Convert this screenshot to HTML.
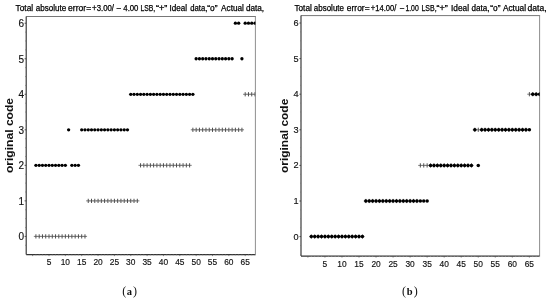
<!DOCTYPE html>
<html><head><meta charset="utf-8"><style>
html,body{margin:0;padding:0;background:#fff;width:550px;height:302px;overflow:hidden}
svg{display:block}
.tk{font-family:"Liberation Sans",Arial,sans-serif;fill:#111;stroke:#111;stroke-width:0.15px}
.tkx{font-family:"Liberation Sans",Arial,sans-serif;font-size:8.4px;fill:#111;stroke:#111;stroke-width:0.15px}
.ylab{font-family:"Liberation Sans",Arial,sans-serif;font-size:11px;font-weight:bold;fill:#111}
.ttl{font-family:"Liberation Sans",Arial,sans-serif;font-size:8.2px;fill:#000;stroke:#000;stroke-width:0.25px}
.cap{font-family:"Liberation Serif","Times New Roman",serif;font-size:12px;fill:#111}
</style></head><body>
<svg width="550" height="302" viewBox="0 0 550 302">
<defs><filter id="bl" x="-5%" y="-50%" width="110%" height="200%"><feGaussianBlur stdDeviation="0.35"/></filter></defs>
<rect width="550" height="302" fill="#fff"/>
<clipPath id="ca"><rect x="26.2" y="16.5" width="229.20000000000002" height="238.1"/></clipPath>
<line x1="26.2" y1="16.5" x2="255.9" y2="16.5" stroke="#777" stroke-width="1"/>
<line x1="255.4" y1="16.5" x2="255.4" y2="254.6" stroke="#8e8e8e" stroke-width="1"/>
<line x1="26.2" y1="16.5" x2="26.2" y2="254.6" stroke="#333" stroke-width="1.15"/>
<line x1="26.2" y1="254.6" x2="255.4" y2="254.6" stroke="#333" stroke-width="1.15"/>
<line x1="25.20" y1="245.28" x2="26.2" y2="245.28" stroke="#777" stroke-width="0.8"/>
<line x1="24.60" y1="236.40" x2="26.2" y2="236.40" stroke="#333" stroke-width="0.8"/>
<line x1="25.20" y1="227.52" x2="26.2" y2="227.52" stroke="#777" stroke-width="0.8"/>
<line x1="25.20" y1="218.63" x2="26.2" y2="218.63" stroke="#777" stroke-width="0.8"/>
<line x1="25.20" y1="209.75" x2="26.2" y2="209.75" stroke="#777" stroke-width="0.8"/>
<line x1="24.60" y1="200.87" x2="26.2" y2="200.87" stroke="#333" stroke-width="0.8"/>
<line x1="25.20" y1="191.99" x2="26.2" y2="191.99" stroke="#777" stroke-width="0.8"/>
<line x1="25.20" y1="183.11" x2="26.2" y2="183.11" stroke="#777" stroke-width="0.8"/>
<line x1="25.20" y1="174.22" x2="26.2" y2="174.22" stroke="#777" stroke-width="0.8"/>
<line x1="24.60" y1="165.34" x2="26.2" y2="165.34" stroke="#333" stroke-width="0.8"/>
<line x1="25.20" y1="156.46" x2="26.2" y2="156.46" stroke="#777" stroke-width="0.8"/>
<line x1="25.20" y1="147.57" x2="26.2" y2="147.57" stroke="#777" stroke-width="0.8"/>
<line x1="25.20" y1="138.69" x2="26.2" y2="138.69" stroke="#777" stroke-width="0.8"/>
<line x1="24.60" y1="129.81" x2="26.2" y2="129.81" stroke="#333" stroke-width="0.8"/>
<line x1="25.20" y1="120.93" x2="26.2" y2="120.93" stroke="#777" stroke-width="0.8"/>
<line x1="25.20" y1="112.05" x2="26.2" y2="112.05" stroke="#777" stroke-width="0.8"/>
<line x1="25.20" y1="103.16" x2="26.2" y2="103.16" stroke="#777" stroke-width="0.8"/>
<line x1="24.60" y1="94.28" x2="26.2" y2="94.28" stroke="#333" stroke-width="0.8"/>
<line x1="25.20" y1="85.40" x2="26.2" y2="85.40" stroke="#777" stroke-width="0.8"/>
<line x1="25.20" y1="76.52" x2="26.2" y2="76.52" stroke="#777" stroke-width="0.8"/>
<line x1="25.20" y1="67.63" x2="26.2" y2="67.63" stroke="#777" stroke-width="0.8"/>
<line x1="24.60" y1="58.75" x2="26.2" y2="58.75" stroke="#333" stroke-width="0.8"/>
<line x1="25.20" y1="49.87" x2="26.2" y2="49.87" stroke="#777" stroke-width="0.8"/>
<line x1="25.20" y1="40.98" x2="26.2" y2="40.98" stroke="#777" stroke-width="0.8"/>
<line x1="25.20" y1="32.10" x2="26.2" y2="32.10" stroke="#777" stroke-width="0.8"/>
<line x1="24.60" y1="23.22" x2="26.2" y2="23.22" stroke="#333" stroke-width="0.8"/>
<line x1="32.65" y1="254.6" x2="32.65" y2="256.1" stroke="#555" stroke-width="0.7"/>
<line x1="35.92" y1="254.6" x2="35.92" y2="255.6" stroke="#999" stroke-width="0.7"/>
<line x1="39.19" y1="254.6" x2="39.19" y2="255.6" stroke="#999" stroke-width="0.7"/>
<line x1="42.46" y1="254.6" x2="42.46" y2="255.6" stroke="#999" stroke-width="0.7"/>
<line x1="45.73" y1="254.6" x2="45.73" y2="255.6" stroke="#999" stroke-width="0.7"/>
<line x1="49.00" y1="254.6" x2="49.00" y2="256.1" stroke="#555" stroke-width="0.7"/>
<line x1="52.27" y1="254.6" x2="52.27" y2="255.6" stroke="#999" stroke-width="0.7"/>
<line x1="55.54" y1="254.6" x2="55.54" y2="255.6" stroke="#999" stroke-width="0.7"/>
<line x1="58.81" y1="254.6" x2="58.81" y2="255.6" stroke="#999" stroke-width="0.7"/>
<line x1="62.08" y1="254.6" x2="62.08" y2="255.6" stroke="#999" stroke-width="0.7"/>
<line x1="65.35" y1="254.6" x2="65.35" y2="256.1" stroke="#555" stroke-width="0.7"/>
<line x1="68.62" y1="254.6" x2="68.62" y2="255.6" stroke="#999" stroke-width="0.7"/>
<line x1="71.89" y1="254.6" x2="71.89" y2="255.6" stroke="#999" stroke-width="0.7"/>
<line x1="75.16" y1="254.6" x2="75.16" y2="255.6" stroke="#999" stroke-width="0.7"/>
<line x1="78.43" y1="254.6" x2="78.43" y2="255.6" stroke="#999" stroke-width="0.7"/>
<line x1="81.70" y1="254.6" x2="81.70" y2="256.1" stroke="#555" stroke-width="0.7"/>
<line x1="84.97" y1="254.6" x2="84.97" y2="255.6" stroke="#999" stroke-width="0.7"/>
<line x1="88.24" y1="254.6" x2="88.24" y2="255.6" stroke="#999" stroke-width="0.7"/>
<line x1="91.51" y1="254.6" x2="91.51" y2="255.6" stroke="#999" stroke-width="0.7"/>
<line x1="94.78" y1="254.6" x2="94.78" y2="255.6" stroke="#999" stroke-width="0.7"/>
<line x1="98.05" y1="254.6" x2="98.05" y2="256.1" stroke="#555" stroke-width="0.7"/>
<line x1="101.32" y1="254.6" x2="101.32" y2="255.6" stroke="#999" stroke-width="0.7"/>
<line x1="104.59" y1="254.6" x2="104.59" y2="255.6" stroke="#999" stroke-width="0.7"/>
<line x1="107.86" y1="254.6" x2="107.86" y2="255.6" stroke="#999" stroke-width="0.7"/>
<line x1="111.13" y1="254.6" x2="111.13" y2="255.6" stroke="#999" stroke-width="0.7"/>
<line x1="114.40" y1="254.6" x2="114.40" y2="256.1" stroke="#555" stroke-width="0.7"/>
<line x1="117.67" y1="254.6" x2="117.67" y2="255.6" stroke="#999" stroke-width="0.7"/>
<line x1="120.94" y1="254.6" x2="120.94" y2="255.6" stroke="#999" stroke-width="0.7"/>
<line x1="124.21" y1="254.6" x2="124.21" y2="255.6" stroke="#999" stroke-width="0.7"/>
<line x1="127.48" y1="254.6" x2="127.48" y2="255.6" stroke="#999" stroke-width="0.7"/>
<line x1="130.75" y1="254.6" x2="130.75" y2="256.1" stroke="#555" stroke-width="0.7"/>
<line x1="134.02" y1="254.6" x2="134.02" y2="255.6" stroke="#999" stroke-width="0.7"/>
<line x1="137.29" y1="254.6" x2="137.29" y2="255.6" stroke="#999" stroke-width="0.7"/>
<line x1="140.56" y1="254.6" x2="140.56" y2="255.6" stroke="#999" stroke-width="0.7"/>
<line x1="143.83" y1="254.6" x2="143.83" y2="255.6" stroke="#999" stroke-width="0.7"/>
<line x1="147.10" y1="254.6" x2="147.10" y2="256.1" stroke="#555" stroke-width="0.7"/>
<line x1="150.37" y1="254.6" x2="150.37" y2="255.6" stroke="#999" stroke-width="0.7"/>
<line x1="153.64" y1="254.6" x2="153.64" y2="255.6" stroke="#999" stroke-width="0.7"/>
<line x1="156.91" y1="254.6" x2="156.91" y2="255.6" stroke="#999" stroke-width="0.7"/>
<line x1="160.18" y1="254.6" x2="160.18" y2="255.6" stroke="#999" stroke-width="0.7"/>
<line x1="163.45" y1="254.6" x2="163.45" y2="256.1" stroke="#555" stroke-width="0.7"/>
<line x1="166.72" y1="254.6" x2="166.72" y2="255.6" stroke="#999" stroke-width="0.7"/>
<line x1="169.99" y1="254.6" x2="169.99" y2="255.6" stroke="#999" stroke-width="0.7"/>
<line x1="173.26" y1="254.6" x2="173.26" y2="255.6" stroke="#999" stroke-width="0.7"/>
<line x1="176.53" y1="254.6" x2="176.53" y2="255.6" stroke="#999" stroke-width="0.7"/>
<line x1="179.80" y1="254.6" x2="179.80" y2="256.1" stroke="#555" stroke-width="0.7"/>
<line x1="183.07" y1="254.6" x2="183.07" y2="255.6" stroke="#999" stroke-width="0.7"/>
<line x1="186.34" y1="254.6" x2="186.34" y2="255.6" stroke="#999" stroke-width="0.7"/>
<line x1="189.61" y1="254.6" x2="189.61" y2="255.6" stroke="#999" stroke-width="0.7"/>
<line x1="192.88" y1="254.6" x2="192.88" y2="255.6" stroke="#999" stroke-width="0.7"/>
<line x1="196.15" y1="254.6" x2="196.15" y2="256.1" stroke="#555" stroke-width="0.7"/>
<line x1="199.42" y1="254.6" x2="199.42" y2="255.6" stroke="#999" stroke-width="0.7"/>
<line x1="202.69" y1="254.6" x2="202.69" y2="255.6" stroke="#999" stroke-width="0.7"/>
<line x1="205.96" y1="254.6" x2="205.96" y2="255.6" stroke="#999" stroke-width="0.7"/>
<line x1="209.23" y1="254.6" x2="209.23" y2="255.6" stroke="#999" stroke-width="0.7"/>
<line x1="212.50" y1="254.6" x2="212.50" y2="256.1" stroke="#555" stroke-width="0.7"/>
<line x1="215.77" y1="254.6" x2="215.77" y2="255.6" stroke="#999" stroke-width="0.7"/>
<line x1="219.04" y1="254.6" x2="219.04" y2="255.6" stroke="#999" stroke-width="0.7"/>
<line x1="222.31" y1="254.6" x2="222.31" y2="255.6" stroke="#999" stroke-width="0.7"/>
<line x1="225.58" y1="254.6" x2="225.58" y2="255.6" stroke="#999" stroke-width="0.7"/>
<line x1="228.85" y1="254.6" x2="228.85" y2="256.1" stroke="#555" stroke-width="0.7"/>
<line x1="232.12" y1="254.6" x2="232.12" y2="255.6" stroke="#999" stroke-width="0.7"/>
<line x1="235.39" y1="254.6" x2="235.39" y2="255.6" stroke="#999" stroke-width="0.7"/>
<line x1="238.66" y1="254.6" x2="238.66" y2="255.6" stroke="#999" stroke-width="0.7"/>
<line x1="241.93" y1="254.6" x2="241.93" y2="255.6" stroke="#999" stroke-width="0.7"/>
<line x1="245.20" y1="254.6" x2="245.20" y2="256.1" stroke="#555" stroke-width="0.7"/>
<line x1="248.47" y1="254.6" x2="248.47" y2="255.6" stroke="#999" stroke-width="0.7"/>
<line x1="251.74" y1="254.6" x2="251.74" y2="255.6" stroke="#999" stroke-width="0.7"/>
<line x1="255.01" y1="254.6" x2="255.01" y2="255.6" stroke="#999" stroke-width="0.7"/>
<g clip-path="url(#ca)">
<g filter="url(#bl)">
<path d="M33.82 236.40H38.02" stroke="#7a7a7a" stroke-width="1" fill="none"/><path d="M35.92 234.30V238.50" stroke="#4e4e4e" stroke-width="1" fill="none"/>
<path d="M37.09 236.40H41.29" stroke="#7a7a7a" stroke-width="1" fill="none"/><path d="M39.19 234.30V238.50" stroke="#4e4e4e" stroke-width="1" fill="none"/>
<path d="M40.36 236.40H44.56" stroke="#7a7a7a" stroke-width="1" fill="none"/><path d="M42.46 234.30V238.50" stroke="#4e4e4e" stroke-width="1" fill="none"/>
<path d="M43.63 236.40H47.83" stroke="#7a7a7a" stroke-width="1" fill="none"/><path d="M45.73 234.30V238.50" stroke="#4e4e4e" stroke-width="1" fill="none"/>
<path d="M46.90 236.40H51.10" stroke="#7a7a7a" stroke-width="1" fill="none"/><path d="M49.00 234.30V238.50" stroke="#4e4e4e" stroke-width="1" fill="none"/>
<path d="M50.17 236.40H54.37" stroke="#7a7a7a" stroke-width="1" fill="none"/><path d="M52.27 234.30V238.50" stroke="#4e4e4e" stroke-width="1" fill="none"/>
<path d="M53.44 236.40H57.64" stroke="#7a7a7a" stroke-width="1" fill="none"/><path d="M55.54 234.30V238.50" stroke="#4e4e4e" stroke-width="1" fill="none"/>
<path d="M56.71 236.40H60.91" stroke="#7a7a7a" stroke-width="1" fill="none"/><path d="M58.81 234.30V238.50" stroke="#4e4e4e" stroke-width="1" fill="none"/>
<path d="M59.98 236.40H64.18" stroke="#7a7a7a" stroke-width="1" fill="none"/><path d="M62.08 234.30V238.50" stroke="#4e4e4e" stroke-width="1" fill="none"/>
<path d="M63.25 236.40H67.45" stroke="#7a7a7a" stroke-width="1" fill="none"/><path d="M65.35 234.30V238.50" stroke="#4e4e4e" stroke-width="1" fill="none"/>
<path d="M66.52 236.40H70.72" stroke="#7a7a7a" stroke-width="1" fill="none"/><path d="M68.62 234.30V238.50" stroke="#4e4e4e" stroke-width="1" fill="none"/>
<path d="M69.79 236.40H73.99" stroke="#7a7a7a" stroke-width="1" fill="none"/><path d="M71.89 234.30V238.50" stroke="#4e4e4e" stroke-width="1" fill="none"/>
<path d="M73.06 236.40H77.26" stroke="#7a7a7a" stroke-width="1" fill="none"/><path d="M75.16 234.30V238.50" stroke="#4e4e4e" stroke-width="1" fill="none"/>
<path d="M76.33 236.40H80.53" stroke="#7a7a7a" stroke-width="1" fill="none"/><path d="M78.43 234.30V238.50" stroke="#4e4e4e" stroke-width="1" fill="none"/>
<path d="M79.60 236.40H83.80" stroke="#7a7a7a" stroke-width="1" fill="none"/><path d="M81.70 234.30V238.50" stroke="#4e4e4e" stroke-width="1" fill="none"/>
<path d="M82.87 236.40H87.07" stroke="#7a7a7a" stroke-width="1" fill="none"/><path d="M84.97 234.30V238.50" stroke="#4e4e4e" stroke-width="1" fill="none"/>
<path d="M86.14 200.87H90.34" stroke="#7a7a7a" stroke-width="1" fill="none"/><path d="M88.24 198.77V202.97" stroke="#4e4e4e" stroke-width="1" fill="none"/>
<path d="M89.41 200.87H93.61" stroke="#7a7a7a" stroke-width="1" fill="none"/><path d="M91.51 198.77V202.97" stroke="#4e4e4e" stroke-width="1" fill="none"/>
<path d="M92.68 200.87H96.88" stroke="#7a7a7a" stroke-width="1" fill="none"/><path d="M94.78 198.77V202.97" stroke="#4e4e4e" stroke-width="1" fill="none"/>
<path d="M95.95 200.87H100.15" stroke="#7a7a7a" stroke-width="1" fill="none"/><path d="M98.05 198.77V202.97" stroke="#4e4e4e" stroke-width="1" fill="none"/>
<path d="M99.22 200.87H103.42" stroke="#7a7a7a" stroke-width="1" fill="none"/><path d="M101.32 198.77V202.97" stroke="#4e4e4e" stroke-width="1" fill="none"/>
<path d="M102.49 200.87H106.69" stroke="#7a7a7a" stroke-width="1" fill="none"/><path d="M104.59 198.77V202.97" stroke="#4e4e4e" stroke-width="1" fill="none"/>
<path d="M105.76 200.87H109.96" stroke="#7a7a7a" stroke-width="1" fill="none"/><path d="M107.86 198.77V202.97" stroke="#4e4e4e" stroke-width="1" fill="none"/>
<path d="M109.03 200.87H113.23" stroke="#7a7a7a" stroke-width="1" fill="none"/><path d="M111.13 198.77V202.97" stroke="#4e4e4e" stroke-width="1" fill="none"/>
<path d="M112.30 200.87H116.50" stroke="#7a7a7a" stroke-width="1" fill="none"/><path d="M114.40 198.77V202.97" stroke="#4e4e4e" stroke-width="1" fill="none"/>
<path d="M115.57 200.87H119.77" stroke="#7a7a7a" stroke-width="1" fill="none"/><path d="M117.67 198.77V202.97" stroke="#4e4e4e" stroke-width="1" fill="none"/>
<path d="M118.84 200.87H123.04" stroke="#7a7a7a" stroke-width="1" fill="none"/><path d="M120.94 198.77V202.97" stroke="#4e4e4e" stroke-width="1" fill="none"/>
<path d="M122.11 200.87H126.31" stroke="#7a7a7a" stroke-width="1" fill="none"/><path d="M124.21 198.77V202.97" stroke="#4e4e4e" stroke-width="1" fill="none"/>
<path d="M125.38 200.87H129.58" stroke="#7a7a7a" stroke-width="1" fill="none"/><path d="M127.48 198.77V202.97" stroke="#4e4e4e" stroke-width="1" fill="none"/>
<path d="M128.65 200.87H132.85" stroke="#7a7a7a" stroke-width="1" fill="none"/><path d="M130.75 198.77V202.97" stroke="#4e4e4e" stroke-width="1" fill="none"/>
<path d="M131.92 200.87H136.12" stroke="#7a7a7a" stroke-width="1" fill="none"/><path d="M134.02 198.77V202.97" stroke="#4e4e4e" stroke-width="1" fill="none"/>
<path d="M135.19 200.87H139.39" stroke="#7a7a7a" stroke-width="1" fill="none"/><path d="M137.29 198.77V202.97" stroke="#4e4e4e" stroke-width="1" fill="none"/>
<path d="M138.46 165.34H142.66" stroke="#7a7a7a" stroke-width="1" fill="none"/><path d="M140.56 163.24V167.44" stroke="#4e4e4e" stroke-width="1" fill="none"/>
<path d="M141.73 165.34H145.93" stroke="#7a7a7a" stroke-width="1" fill="none"/><path d="M143.83 163.24V167.44" stroke="#4e4e4e" stroke-width="1" fill="none"/>
<path d="M145.00 165.34H149.20" stroke="#7a7a7a" stroke-width="1" fill="none"/><path d="M147.10 163.24V167.44" stroke="#4e4e4e" stroke-width="1" fill="none"/>
<path d="M148.27 165.34H152.47" stroke="#7a7a7a" stroke-width="1" fill="none"/><path d="M150.37 163.24V167.44" stroke="#4e4e4e" stroke-width="1" fill="none"/>
<path d="M151.54 165.34H155.74" stroke="#7a7a7a" stroke-width="1" fill="none"/><path d="M153.64 163.24V167.44" stroke="#4e4e4e" stroke-width="1" fill="none"/>
<path d="M154.81 165.34H159.01" stroke="#7a7a7a" stroke-width="1" fill="none"/><path d="M156.91 163.24V167.44" stroke="#4e4e4e" stroke-width="1" fill="none"/>
<path d="M158.08 165.34H162.28" stroke="#7a7a7a" stroke-width="1" fill="none"/><path d="M160.18 163.24V167.44" stroke="#4e4e4e" stroke-width="1" fill="none"/>
<path d="M161.35 165.34H165.55" stroke="#7a7a7a" stroke-width="1" fill="none"/><path d="M163.45 163.24V167.44" stroke="#4e4e4e" stroke-width="1" fill="none"/>
<path d="M164.62 165.34H168.82" stroke="#7a7a7a" stroke-width="1" fill="none"/><path d="M166.72 163.24V167.44" stroke="#4e4e4e" stroke-width="1" fill="none"/>
<path d="M167.89 165.34H172.09" stroke="#7a7a7a" stroke-width="1" fill="none"/><path d="M169.99 163.24V167.44" stroke="#4e4e4e" stroke-width="1" fill="none"/>
<path d="M171.16 165.34H175.36" stroke="#7a7a7a" stroke-width="1" fill="none"/><path d="M173.26 163.24V167.44" stroke="#4e4e4e" stroke-width="1" fill="none"/>
<path d="M174.43 165.34H178.63" stroke="#7a7a7a" stroke-width="1" fill="none"/><path d="M176.53 163.24V167.44" stroke="#4e4e4e" stroke-width="1" fill="none"/>
<path d="M177.70 165.34H181.90" stroke="#7a7a7a" stroke-width="1" fill="none"/><path d="M179.80 163.24V167.44" stroke="#4e4e4e" stroke-width="1" fill="none"/>
<path d="M180.97 165.34H185.17" stroke="#7a7a7a" stroke-width="1" fill="none"/><path d="M183.07 163.24V167.44" stroke="#4e4e4e" stroke-width="1" fill="none"/>
<path d="M184.24 165.34H188.44" stroke="#7a7a7a" stroke-width="1" fill="none"/><path d="M186.34 163.24V167.44" stroke="#4e4e4e" stroke-width="1" fill="none"/>
<path d="M187.51 165.34H191.71" stroke="#7a7a7a" stroke-width="1" fill="none"/><path d="M189.61 163.24V167.44" stroke="#4e4e4e" stroke-width="1" fill="none"/>
<path d="M190.78 129.81H194.98" stroke="#7a7a7a" stroke-width="1" fill="none"/><path d="M192.88 127.71V131.91" stroke="#4e4e4e" stroke-width="1" fill="none"/>
<path d="M194.05 129.81H198.25" stroke="#7a7a7a" stroke-width="1" fill="none"/><path d="M196.15 127.71V131.91" stroke="#4e4e4e" stroke-width="1" fill="none"/>
<path d="M197.32 129.81H201.52" stroke="#7a7a7a" stroke-width="1" fill="none"/><path d="M199.42 127.71V131.91" stroke="#4e4e4e" stroke-width="1" fill="none"/>
<path d="M200.59 129.81H204.79" stroke="#7a7a7a" stroke-width="1" fill="none"/><path d="M202.69 127.71V131.91" stroke="#4e4e4e" stroke-width="1" fill="none"/>
<path d="M203.86 129.81H208.06" stroke="#7a7a7a" stroke-width="1" fill="none"/><path d="M205.96 127.71V131.91" stroke="#4e4e4e" stroke-width="1" fill="none"/>
<path d="M207.13 129.81H211.33" stroke="#7a7a7a" stroke-width="1" fill="none"/><path d="M209.23 127.71V131.91" stroke="#4e4e4e" stroke-width="1" fill="none"/>
<path d="M210.40 129.81H214.60" stroke="#7a7a7a" stroke-width="1" fill="none"/><path d="M212.50 127.71V131.91" stroke="#4e4e4e" stroke-width="1" fill="none"/>
<path d="M213.67 129.81H217.87" stroke="#7a7a7a" stroke-width="1" fill="none"/><path d="M215.77 127.71V131.91" stroke="#4e4e4e" stroke-width="1" fill="none"/>
<path d="M216.94 129.81H221.14" stroke="#7a7a7a" stroke-width="1" fill="none"/><path d="M219.04 127.71V131.91" stroke="#4e4e4e" stroke-width="1" fill="none"/>
<path d="M220.21 129.81H224.41" stroke="#7a7a7a" stroke-width="1" fill="none"/><path d="M222.31 127.71V131.91" stroke="#4e4e4e" stroke-width="1" fill="none"/>
<path d="M223.48 129.81H227.68" stroke="#7a7a7a" stroke-width="1" fill="none"/><path d="M225.58 127.71V131.91" stroke="#4e4e4e" stroke-width="1" fill="none"/>
<path d="M226.75 129.81H230.95" stroke="#7a7a7a" stroke-width="1" fill="none"/><path d="M228.85 127.71V131.91" stroke="#4e4e4e" stroke-width="1" fill="none"/>
<path d="M230.02 129.81H234.22" stroke="#7a7a7a" stroke-width="1" fill="none"/><path d="M232.12 127.71V131.91" stroke="#4e4e4e" stroke-width="1" fill="none"/>
<path d="M233.29 129.81H237.49" stroke="#7a7a7a" stroke-width="1" fill="none"/><path d="M235.39 127.71V131.91" stroke="#4e4e4e" stroke-width="1" fill="none"/>
<path d="M236.56 129.81H240.76" stroke="#7a7a7a" stroke-width="1" fill="none"/><path d="M238.66 127.71V131.91" stroke="#4e4e4e" stroke-width="1" fill="none"/>
<path d="M239.83 129.81H244.03" stroke="#7a7a7a" stroke-width="1" fill="none"/><path d="M241.93 127.71V131.91" stroke="#4e4e4e" stroke-width="1" fill="none"/>
<path d="M243.10 94.28H247.30" stroke="#7a7a7a" stroke-width="1" fill="none"/><path d="M245.20 92.18V96.38" stroke="#4e4e4e" stroke-width="1" fill="none"/>
<path d="M246.37 94.28H250.57" stroke="#7a7a7a" stroke-width="1" fill="none"/><path d="M248.47 92.18V96.38" stroke="#4e4e4e" stroke-width="1" fill="none"/>
<path d="M249.64 94.28H253.84" stroke="#7a7a7a" stroke-width="1" fill="none"/><path d="M251.74 92.18V96.38" stroke="#4e4e4e" stroke-width="1" fill="none"/>
<path d="M252.91 94.28H257.11" stroke="#7a7a7a" stroke-width="1" fill="none"/><path d="M255.01 92.18V96.38" stroke="#4e4e4e" stroke-width="1" fill="none"/>
</g>
<circle cx="35.92" cy="165.34" r="1.65" fill="#000"/>
<circle cx="39.19" cy="165.34" r="1.65" fill="#000"/>
<circle cx="42.46" cy="165.34" r="1.65" fill="#000"/>
<circle cx="45.73" cy="165.34" r="1.65" fill="#000"/>
<circle cx="49.00" cy="165.34" r="1.65" fill="#000"/>
<circle cx="52.27" cy="165.34" r="1.65" fill="#000"/>
<circle cx="55.54" cy="165.34" r="1.65" fill="#000"/>
<circle cx="58.81" cy="165.34" r="1.65" fill="#000"/>
<circle cx="62.08" cy="165.34" r="1.65" fill="#000"/>
<circle cx="65.35" cy="165.34" r="1.65" fill="#000"/>
<circle cx="71.89" cy="165.34" r="1.65" fill="#000"/>
<circle cx="75.16" cy="165.34" r="1.65" fill="#000"/>
<circle cx="78.43" cy="165.34" r="1.65" fill="#000"/>
<circle cx="68.62" cy="129.81" r="1.65" fill="#000"/>
<circle cx="81.70" cy="129.81" r="1.65" fill="#000"/>
<circle cx="84.97" cy="129.81" r="1.65" fill="#000"/>
<circle cx="88.24" cy="129.81" r="1.65" fill="#000"/>
<circle cx="91.51" cy="129.81" r="1.65" fill="#000"/>
<circle cx="94.78" cy="129.81" r="1.65" fill="#000"/>
<circle cx="98.05" cy="129.81" r="1.65" fill="#000"/>
<circle cx="101.32" cy="129.81" r="1.65" fill="#000"/>
<circle cx="104.59" cy="129.81" r="1.65" fill="#000"/>
<circle cx="107.86" cy="129.81" r="1.65" fill="#000"/>
<circle cx="111.13" cy="129.81" r="1.65" fill="#000"/>
<circle cx="114.40" cy="129.81" r="1.65" fill="#000"/>
<circle cx="117.67" cy="129.81" r="1.65" fill="#000"/>
<circle cx="120.94" cy="129.81" r="1.65" fill="#000"/>
<circle cx="124.21" cy="129.81" r="1.65" fill="#000"/>
<circle cx="127.48" cy="129.81" r="1.65" fill="#000"/>
<circle cx="130.75" cy="94.28" r="1.65" fill="#000"/>
<circle cx="134.02" cy="94.28" r="1.65" fill="#000"/>
<circle cx="137.29" cy="94.28" r="1.65" fill="#000"/>
<circle cx="140.56" cy="94.28" r="1.65" fill="#000"/>
<circle cx="143.83" cy="94.28" r="1.65" fill="#000"/>
<circle cx="147.10" cy="94.28" r="1.65" fill="#000"/>
<circle cx="150.37" cy="94.28" r="1.65" fill="#000"/>
<circle cx="153.64" cy="94.28" r="1.65" fill="#000"/>
<circle cx="156.91" cy="94.28" r="1.65" fill="#000"/>
<circle cx="160.18" cy="94.28" r="1.65" fill="#000"/>
<circle cx="163.45" cy="94.28" r="1.65" fill="#000"/>
<circle cx="166.72" cy="94.28" r="1.65" fill="#000"/>
<circle cx="169.99" cy="94.28" r="1.65" fill="#000"/>
<circle cx="173.26" cy="94.28" r="1.65" fill="#000"/>
<circle cx="176.53" cy="94.28" r="1.65" fill="#000"/>
<circle cx="179.80" cy="94.28" r="1.65" fill="#000"/>
<circle cx="183.07" cy="94.28" r="1.65" fill="#000"/>
<circle cx="186.34" cy="94.28" r="1.65" fill="#000"/>
<circle cx="189.61" cy="94.28" r="1.65" fill="#000"/>
<circle cx="192.88" cy="94.28" r="1.65" fill="#000"/>
<circle cx="196.15" cy="58.75" r="1.65" fill="#000"/>
<circle cx="199.42" cy="58.75" r="1.65" fill="#000"/>
<circle cx="202.69" cy="58.75" r="1.65" fill="#000"/>
<circle cx="205.96" cy="58.75" r="1.65" fill="#000"/>
<circle cx="209.23" cy="58.75" r="1.65" fill="#000"/>
<circle cx="212.50" cy="58.75" r="1.65" fill="#000"/>
<circle cx="215.77" cy="58.75" r="1.65" fill="#000"/>
<circle cx="219.04" cy="58.75" r="1.65" fill="#000"/>
<circle cx="222.31" cy="58.75" r="1.65" fill="#000"/>
<circle cx="225.58" cy="58.75" r="1.65" fill="#000"/>
<circle cx="228.85" cy="58.75" r="1.65" fill="#000"/>
<circle cx="232.12" cy="58.75" r="1.65" fill="#000"/>
<circle cx="241.93" cy="58.75" r="1.65" fill="#000"/>
<circle cx="235.39" cy="23.22" r="1.65" fill="#000"/>
<circle cx="238.66" cy="23.22" r="1.65" fill="#000"/>
<circle cx="245.20" cy="23.22" r="1.65" fill="#000"/>
<circle cx="248.47" cy="23.22" r="1.65" fill="#000"/>
<circle cx="251.74" cy="23.22" r="1.65" fill="#000"/>
<circle cx="255.01" cy="23.22" r="1.65" fill="#000"/>
</g>
<text x="23.95" y="240.15" text-anchor="end" class="tk" font-size="10.0">0</text>
<text x="23.95" y="204.62" text-anchor="end" class="tk" font-size="10.0">1</text>
<text x="23.95" y="169.09" text-anchor="end" class="tk" font-size="10.0">2</text>
<text x="23.95" y="133.56" text-anchor="end" class="tk" font-size="10.0">3</text>
<text x="23.95" y="98.03" text-anchor="end" class="tk" font-size="10.0">4</text>
<text x="23.95" y="62.50" text-anchor="end" class="tk" font-size="10.0">5</text>
<text x="23.95" y="26.97" text-anchor="end" class="tk" font-size="10.0">6</text>
<text x="49.00" y="265.3" text-anchor="middle" class="tkx">5</text>
<text x="65.35" y="265.3" text-anchor="middle" class="tkx">10</text>
<text x="81.70" y="265.3" text-anchor="middle" class="tkx">15</text>
<text x="98.05" y="265.3" text-anchor="middle" class="tkx">20</text>
<text x="114.40" y="265.3" text-anchor="middle" class="tkx">25</text>
<text x="130.75" y="265.3" text-anchor="middle" class="tkx">30</text>
<text x="147.10" y="265.3" text-anchor="middle" class="tkx">35</text>
<text x="163.45" y="265.3" text-anchor="middle" class="tkx">40</text>
<text x="179.80" y="265.3" text-anchor="middle" class="tkx">45</text>
<text x="196.15" y="265.3" text-anchor="middle" class="tkx">50</text>
<text x="212.50" y="265.3" text-anchor="middle" class="tkx">55</text>
<text x="228.85" y="265.3" text-anchor="middle" class="tkx">60</text>
<text x="245.20" y="265.3" text-anchor="middle" class="tkx">65</text>
<text x="0" y="0" transform="translate(12.8,135.5) rotate(-90)" text-anchor="middle" textLength="75.2" lengthAdjust="spacingAndGlyphs" class="ylab">original code</text>
<text x="15.50" y="10.6" textLength="17.63" lengthAdjust="spacingAndGlyphs" class="ttl">Total</text>
<text x="35.80" y="10.6" textLength="30.50" lengthAdjust="spacingAndGlyphs" class="ttl">absolute</text>
<text x="68.09" y="10.6" textLength="23.12" lengthAdjust="spacingAndGlyphs" class="ttl">error=</text>
<text x="92.11" y="10.6" textLength="21.92" lengthAdjust="spacingAndGlyphs" class="ttl">+3.00/</text>
<text x="116.49" y="10.6" textLength="5.02" lengthAdjust="spacingAndGlyphs" class="ttl">−</text>
<text x="123.31" y="10.6" textLength="15.15" lengthAdjust="spacingAndGlyphs" class="ttl">4.00</text>
<text x="140.38" y="10.6" textLength="14.80" lengthAdjust="spacingAndGlyphs" class="ttl">LSB,</text>
<text x="155.98" y="10.6" textLength="11.29" lengthAdjust="spacingAndGlyphs" class="ttl">“+”</text>
<text x="169.41" y="10.6" textLength="17.57" lengthAdjust="spacingAndGlyphs" class="ttl">Ideal</text>
<text x="190.31" y="10.6" textLength="17.09" lengthAdjust="spacingAndGlyphs" class="ttl">data,</text>
<text x="207.30" y="10.6" textLength="10.23" lengthAdjust="spacingAndGlyphs" class="ttl">“o”</text>
<text x="221.10" y="10.6" textLength="22.79" lengthAdjust="spacingAndGlyphs" class="ttl">Actual</text>
<text x="245.90" y="10.6" textLength="18.24" lengthAdjust="spacingAndGlyphs" class="ttl">data,</text>
<text y="295.2" class="cap"><tspan x="122.3">(</tspan><tspan x="126.7" font-weight="bold" font-size="10.5px">a</tspan><tspan x="132.9">)</tspan></text>
<clipPath id="cb"><rect x="301.0" y="15.6" width="238.60000000000002" height="240.50000000000003"/></clipPath>
<line x1="301.0" y1="15.6" x2="540.1" y2="15.6" stroke="#777" stroke-width="1"/>
<line x1="539.6" y1="15.6" x2="539.6" y2="256.1" stroke="#8e8e8e" stroke-width="1"/>
<line x1="301.0" y1="15.6" x2="301.0" y2="256.1" stroke="#333" stroke-width="1.15"/>
<line x1="301.0" y1="256.1" x2="539.6" y2="256.1" stroke="#333" stroke-width="1.15"/>
<line x1="300.00" y1="254.40" x2="301.0" y2="254.40" stroke="#777" stroke-width="0.8"/>
<line x1="300.00" y1="245.50" x2="301.0" y2="245.50" stroke="#777" stroke-width="0.8"/>
<line x1="299.40" y1="236.60" x2="301.0" y2="236.60" stroke="#333" stroke-width="0.8"/>
<line x1="300.00" y1="227.70" x2="301.0" y2="227.70" stroke="#777" stroke-width="0.8"/>
<line x1="300.00" y1="218.80" x2="301.0" y2="218.80" stroke="#777" stroke-width="0.8"/>
<line x1="300.00" y1="209.90" x2="301.0" y2="209.90" stroke="#777" stroke-width="0.8"/>
<line x1="299.40" y1="201.00" x2="301.0" y2="201.00" stroke="#333" stroke-width="0.8"/>
<line x1="300.00" y1="192.10" x2="301.0" y2="192.10" stroke="#777" stroke-width="0.8"/>
<line x1="300.00" y1="183.20" x2="301.0" y2="183.20" stroke="#777" stroke-width="0.8"/>
<line x1="300.00" y1="174.30" x2="301.0" y2="174.30" stroke="#777" stroke-width="0.8"/>
<line x1="299.40" y1="165.40" x2="301.0" y2="165.40" stroke="#333" stroke-width="0.8"/>
<line x1="300.00" y1="156.50" x2="301.0" y2="156.50" stroke="#777" stroke-width="0.8"/>
<line x1="300.00" y1="147.60" x2="301.0" y2="147.60" stroke="#777" stroke-width="0.8"/>
<line x1="300.00" y1="138.70" x2="301.0" y2="138.70" stroke="#777" stroke-width="0.8"/>
<line x1="299.40" y1="129.80" x2="301.0" y2="129.80" stroke="#333" stroke-width="0.8"/>
<line x1="300.00" y1="120.90" x2="301.0" y2="120.90" stroke="#777" stroke-width="0.8"/>
<line x1="300.00" y1="112.00" x2="301.0" y2="112.00" stroke="#777" stroke-width="0.8"/>
<line x1="300.00" y1="103.10" x2="301.0" y2="103.10" stroke="#777" stroke-width="0.8"/>
<line x1="299.40" y1="94.20" x2="301.0" y2="94.20" stroke="#333" stroke-width="0.8"/>
<line x1="300.00" y1="85.30" x2="301.0" y2="85.30" stroke="#777" stroke-width="0.8"/>
<line x1="300.00" y1="76.40" x2="301.0" y2="76.40" stroke="#777" stroke-width="0.8"/>
<line x1="300.00" y1="67.50" x2="301.0" y2="67.50" stroke="#777" stroke-width="0.8"/>
<line x1="299.40" y1="58.60" x2="301.0" y2="58.60" stroke="#333" stroke-width="0.8"/>
<line x1="300.00" y1="49.70" x2="301.0" y2="49.70" stroke="#777" stroke-width="0.8"/>
<line x1="300.00" y1="40.80" x2="301.0" y2="40.80" stroke="#777" stroke-width="0.8"/>
<line x1="300.00" y1="31.90" x2="301.0" y2="31.90" stroke="#777" stroke-width="0.8"/>
<line x1="299.40" y1="23.00" x2="301.0" y2="23.00" stroke="#333" stroke-width="0.8"/>
<line x1="307.90" y1="256.1" x2="307.90" y2="257.6" stroke="#555" stroke-width="0.7"/>
<line x1="311.31" y1="256.1" x2="311.31" y2="257.1" stroke="#999" stroke-width="0.7"/>
<line x1="314.71" y1="256.1" x2="314.71" y2="257.1" stroke="#999" stroke-width="0.7"/>
<line x1="318.12" y1="256.1" x2="318.12" y2="257.1" stroke="#999" stroke-width="0.7"/>
<line x1="321.53" y1="256.1" x2="321.53" y2="257.1" stroke="#999" stroke-width="0.7"/>
<line x1="324.94" y1="256.1" x2="324.94" y2="257.6" stroke="#555" stroke-width="0.7"/>
<line x1="328.34" y1="256.1" x2="328.34" y2="257.1" stroke="#999" stroke-width="0.7"/>
<line x1="331.75" y1="256.1" x2="331.75" y2="257.1" stroke="#999" stroke-width="0.7"/>
<line x1="335.16" y1="256.1" x2="335.16" y2="257.1" stroke="#999" stroke-width="0.7"/>
<line x1="338.56" y1="256.1" x2="338.56" y2="257.1" stroke="#999" stroke-width="0.7"/>
<line x1="341.97" y1="256.1" x2="341.97" y2="257.6" stroke="#555" stroke-width="0.7"/>
<line x1="345.38" y1="256.1" x2="345.38" y2="257.1" stroke="#999" stroke-width="0.7"/>
<line x1="348.78" y1="256.1" x2="348.78" y2="257.1" stroke="#999" stroke-width="0.7"/>
<line x1="352.19" y1="256.1" x2="352.19" y2="257.1" stroke="#999" stroke-width="0.7"/>
<line x1="355.60" y1="256.1" x2="355.60" y2="257.1" stroke="#999" stroke-width="0.7"/>
<line x1="359.00" y1="256.1" x2="359.00" y2="257.6" stroke="#555" stroke-width="0.7"/>
<line x1="362.41" y1="256.1" x2="362.41" y2="257.1" stroke="#999" stroke-width="0.7"/>
<line x1="365.82" y1="256.1" x2="365.82" y2="257.1" stroke="#999" stroke-width="0.7"/>
<line x1="369.23" y1="256.1" x2="369.23" y2="257.1" stroke="#999" stroke-width="0.7"/>
<line x1="372.63" y1="256.1" x2="372.63" y2="257.1" stroke="#999" stroke-width="0.7"/>
<line x1="376.04" y1="256.1" x2="376.04" y2="257.6" stroke="#555" stroke-width="0.7"/>
<line x1="379.45" y1="256.1" x2="379.45" y2="257.1" stroke="#999" stroke-width="0.7"/>
<line x1="382.85" y1="256.1" x2="382.85" y2="257.1" stroke="#999" stroke-width="0.7"/>
<line x1="386.26" y1="256.1" x2="386.26" y2="257.1" stroke="#999" stroke-width="0.7"/>
<line x1="389.67" y1="256.1" x2="389.67" y2="257.1" stroke="#999" stroke-width="0.7"/>
<line x1="393.07" y1="256.1" x2="393.07" y2="257.6" stroke="#555" stroke-width="0.7"/>
<line x1="396.48" y1="256.1" x2="396.48" y2="257.1" stroke="#999" stroke-width="0.7"/>
<line x1="399.89" y1="256.1" x2="399.89" y2="257.1" stroke="#999" stroke-width="0.7"/>
<line x1="403.30" y1="256.1" x2="403.30" y2="257.1" stroke="#999" stroke-width="0.7"/>
<line x1="406.70" y1="256.1" x2="406.70" y2="257.1" stroke="#999" stroke-width="0.7"/>
<line x1="410.11" y1="256.1" x2="410.11" y2="257.6" stroke="#555" stroke-width="0.7"/>
<line x1="413.52" y1="256.1" x2="413.52" y2="257.1" stroke="#999" stroke-width="0.7"/>
<line x1="416.92" y1="256.1" x2="416.92" y2="257.1" stroke="#999" stroke-width="0.7"/>
<line x1="420.33" y1="256.1" x2="420.33" y2="257.1" stroke="#999" stroke-width="0.7"/>
<line x1="423.74" y1="256.1" x2="423.74" y2="257.1" stroke="#999" stroke-width="0.7"/>
<line x1="427.14" y1="256.1" x2="427.14" y2="257.6" stroke="#555" stroke-width="0.7"/>
<line x1="430.55" y1="256.1" x2="430.55" y2="257.1" stroke="#999" stroke-width="0.7"/>
<line x1="433.96" y1="256.1" x2="433.96" y2="257.1" stroke="#999" stroke-width="0.7"/>
<line x1="437.37" y1="256.1" x2="437.37" y2="257.1" stroke="#999" stroke-width="0.7"/>
<line x1="440.77" y1="256.1" x2="440.77" y2="257.1" stroke="#999" stroke-width="0.7"/>
<line x1="444.18" y1="256.1" x2="444.18" y2="257.6" stroke="#555" stroke-width="0.7"/>
<line x1="447.59" y1="256.1" x2="447.59" y2="257.1" stroke="#999" stroke-width="0.7"/>
<line x1="450.99" y1="256.1" x2="450.99" y2="257.1" stroke="#999" stroke-width="0.7"/>
<line x1="454.40" y1="256.1" x2="454.40" y2="257.1" stroke="#999" stroke-width="0.7"/>
<line x1="457.81" y1="256.1" x2="457.81" y2="257.1" stroke="#999" stroke-width="0.7"/>
<line x1="461.21" y1="256.1" x2="461.21" y2="257.6" stroke="#555" stroke-width="0.7"/>
<line x1="464.62" y1="256.1" x2="464.62" y2="257.1" stroke="#999" stroke-width="0.7"/>
<line x1="468.03" y1="256.1" x2="468.03" y2="257.1" stroke="#999" stroke-width="0.7"/>
<line x1="471.44" y1="256.1" x2="471.44" y2="257.1" stroke="#999" stroke-width="0.7"/>
<line x1="474.84" y1="256.1" x2="474.84" y2="257.1" stroke="#999" stroke-width="0.7"/>
<line x1="478.25" y1="256.1" x2="478.25" y2="257.6" stroke="#555" stroke-width="0.7"/>
<line x1="481.66" y1="256.1" x2="481.66" y2="257.1" stroke="#999" stroke-width="0.7"/>
<line x1="485.06" y1="256.1" x2="485.06" y2="257.1" stroke="#999" stroke-width="0.7"/>
<line x1="488.47" y1="256.1" x2="488.47" y2="257.1" stroke="#999" stroke-width="0.7"/>
<line x1="491.88" y1="256.1" x2="491.88" y2="257.1" stroke="#999" stroke-width="0.7"/>
<line x1="495.28" y1="256.1" x2="495.28" y2="257.6" stroke="#555" stroke-width="0.7"/>
<line x1="498.69" y1="256.1" x2="498.69" y2="257.1" stroke="#999" stroke-width="0.7"/>
<line x1="502.10" y1="256.1" x2="502.10" y2="257.1" stroke="#999" stroke-width="0.7"/>
<line x1="505.51" y1="256.1" x2="505.51" y2="257.1" stroke="#999" stroke-width="0.7"/>
<line x1="508.91" y1="256.1" x2="508.91" y2="257.1" stroke="#999" stroke-width="0.7"/>
<line x1="512.32" y1="256.1" x2="512.32" y2="257.6" stroke="#555" stroke-width="0.7"/>
<line x1="515.73" y1="256.1" x2="515.73" y2="257.1" stroke="#999" stroke-width="0.7"/>
<line x1="519.13" y1="256.1" x2="519.13" y2="257.1" stroke="#999" stroke-width="0.7"/>
<line x1="522.54" y1="256.1" x2="522.54" y2="257.1" stroke="#999" stroke-width="0.7"/>
<line x1="525.95" y1="256.1" x2="525.95" y2="257.1" stroke="#999" stroke-width="0.7"/>
<line x1="529.36" y1="256.1" x2="529.36" y2="257.6" stroke="#555" stroke-width="0.7"/>
<line x1="532.76" y1="256.1" x2="532.76" y2="257.1" stroke="#999" stroke-width="0.7"/>
<line x1="536.17" y1="256.1" x2="536.17" y2="257.1" stroke="#999" stroke-width="0.7"/>
<line x1="539.58" y1="256.1" x2="539.58" y2="257.1" stroke="#999" stroke-width="0.7"/>
<g clip-path="url(#cb)">
<g filter="url(#bl)">
<path d="M309.21 236.60H313.41" stroke="#7a7a7a" stroke-width="1" fill="none"/><path d="M311.31 234.50V238.70" stroke="#4e4e4e" stroke-width="1" fill="none"/>
<path d="M312.61 236.60H316.81" stroke="#7a7a7a" stroke-width="1" fill="none"/><path d="M314.71 234.50V238.70" stroke="#4e4e4e" stroke-width="1" fill="none"/>
<path d="M316.02 236.60H320.22" stroke="#7a7a7a" stroke-width="1" fill="none"/><path d="M318.12 234.50V238.70" stroke="#4e4e4e" stroke-width="1" fill="none"/>
<path d="M319.43 236.60H323.63" stroke="#7a7a7a" stroke-width="1" fill="none"/><path d="M321.53 234.50V238.70" stroke="#4e4e4e" stroke-width="1" fill="none"/>
<path d="M322.83 236.60H327.04" stroke="#7a7a7a" stroke-width="1" fill="none"/><path d="M324.94 234.50V238.70" stroke="#4e4e4e" stroke-width="1" fill="none"/>
<path d="M326.24 236.60H330.44" stroke="#7a7a7a" stroke-width="1" fill="none"/><path d="M328.34 234.50V238.70" stroke="#4e4e4e" stroke-width="1" fill="none"/>
<path d="M329.65 236.60H333.85" stroke="#7a7a7a" stroke-width="1" fill="none"/><path d="M331.75 234.50V238.70" stroke="#4e4e4e" stroke-width="1" fill="none"/>
<path d="M333.06 236.60H337.26" stroke="#7a7a7a" stroke-width="1" fill="none"/><path d="M335.16 234.50V238.70" stroke="#4e4e4e" stroke-width="1" fill="none"/>
<path d="M336.46 236.60H340.66" stroke="#7a7a7a" stroke-width="1" fill="none"/><path d="M338.56 234.50V238.70" stroke="#4e4e4e" stroke-width="1" fill="none"/>
<path d="M339.87 236.60H344.07" stroke="#7a7a7a" stroke-width="1" fill="none"/><path d="M341.97 234.50V238.70" stroke="#4e4e4e" stroke-width="1" fill="none"/>
<path d="M343.28 236.60H347.48" stroke="#7a7a7a" stroke-width="1" fill="none"/><path d="M345.38 234.50V238.70" stroke="#4e4e4e" stroke-width="1" fill="none"/>
<path d="M346.68 236.60H350.88" stroke="#7a7a7a" stroke-width="1" fill="none"/><path d="M348.78 234.50V238.70" stroke="#4e4e4e" stroke-width="1" fill="none"/>
<path d="M350.09 236.60H354.29" stroke="#7a7a7a" stroke-width="1" fill="none"/><path d="M352.19 234.50V238.70" stroke="#4e4e4e" stroke-width="1" fill="none"/>
<path d="M353.50 236.60H357.70" stroke="#7a7a7a" stroke-width="1" fill="none"/><path d="M355.60 234.50V238.70" stroke="#4e4e4e" stroke-width="1" fill="none"/>
<path d="M356.90 236.60H361.11" stroke="#7a7a7a" stroke-width="1" fill="none"/><path d="M359.00 234.50V238.70" stroke="#4e4e4e" stroke-width="1" fill="none"/>
<path d="M360.31 236.60H364.51" stroke="#7a7a7a" stroke-width="1" fill="none"/><path d="M362.41 234.50V238.70" stroke="#4e4e4e" stroke-width="1" fill="none"/>
<path d="M363.72 201.00H367.92" stroke="#7a7a7a" stroke-width="1" fill="none"/><path d="M365.82 198.90V203.10" stroke="#4e4e4e" stroke-width="1" fill="none"/>
<path d="M367.13 201.00H371.33" stroke="#7a7a7a" stroke-width="1" fill="none"/><path d="M369.23 198.90V203.10" stroke="#4e4e4e" stroke-width="1" fill="none"/>
<path d="M370.53 201.00H374.73" stroke="#7a7a7a" stroke-width="1" fill="none"/><path d="M372.63 198.90V203.10" stroke="#4e4e4e" stroke-width="1" fill="none"/>
<path d="M373.94 201.00H378.14" stroke="#7a7a7a" stroke-width="1" fill="none"/><path d="M376.04 198.90V203.10" stroke="#4e4e4e" stroke-width="1" fill="none"/>
<path d="M377.35 201.00H381.55" stroke="#7a7a7a" stroke-width="1" fill="none"/><path d="M379.45 198.90V203.10" stroke="#4e4e4e" stroke-width="1" fill="none"/>
<path d="M380.75 201.00H384.95" stroke="#7a7a7a" stroke-width="1" fill="none"/><path d="M382.85 198.90V203.10" stroke="#4e4e4e" stroke-width="1" fill="none"/>
<path d="M384.16 201.00H388.36" stroke="#7a7a7a" stroke-width="1" fill="none"/><path d="M386.26 198.90V203.10" stroke="#4e4e4e" stroke-width="1" fill="none"/>
<path d="M387.57 201.00H391.77" stroke="#7a7a7a" stroke-width="1" fill="none"/><path d="M389.67 198.90V203.10" stroke="#4e4e4e" stroke-width="1" fill="none"/>
<path d="M390.97 201.00H395.18" stroke="#7a7a7a" stroke-width="1" fill="none"/><path d="M393.07 198.90V203.10" stroke="#4e4e4e" stroke-width="1" fill="none"/>
<path d="M394.38 201.00H398.58" stroke="#7a7a7a" stroke-width="1" fill="none"/><path d="M396.48 198.90V203.10" stroke="#4e4e4e" stroke-width="1" fill="none"/>
<path d="M397.79 201.00H401.99" stroke="#7a7a7a" stroke-width="1" fill="none"/><path d="M399.89 198.90V203.10" stroke="#4e4e4e" stroke-width="1" fill="none"/>
<path d="M401.20 201.00H405.40" stroke="#7a7a7a" stroke-width="1" fill="none"/><path d="M403.30 198.90V203.10" stroke="#4e4e4e" stroke-width="1" fill="none"/>
<path d="M404.60 201.00H408.80" stroke="#7a7a7a" stroke-width="1" fill="none"/><path d="M406.70 198.90V203.10" stroke="#4e4e4e" stroke-width="1" fill="none"/>
<path d="M408.01 201.00H412.21" stroke="#7a7a7a" stroke-width="1" fill="none"/><path d="M410.11 198.90V203.10" stroke="#4e4e4e" stroke-width="1" fill="none"/>
<path d="M411.42 201.00H415.62" stroke="#7a7a7a" stroke-width="1" fill="none"/><path d="M413.52 198.90V203.10" stroke="#4e4e4e" stroke-width="1" fill="none"/>
<path d="M414.82 201.00H419.02" stroke="#7a7a7a" stroke-width="1" fill="none"/><path d="M416.92 198.90V203.10" stroke="#4e4e4e" stroke-width="1" fill="none"/>
<path d="M418.23 165.40H422.43" stroke="#7a7a7a" stroke-width="1" fill="none"/><path d="M420.33 163.30V167.50" stroke="#4e4e4e" stroke-width="1" fill="none"/>
<path d="M421.64 165.40H425.84" stroke="#7a7a7a" stroke-width="1" fill="none"/><path d="M423.74 163.30V167.50" stroke="#4e4e4e" stroke-width="1" fill="none"/>
<path d="M425.04 165.40H429.25" stroke="#7a7a7a" stroke-width="1" fill="none"/><path d="M427.14 163.30V167.50" stroke="#4e4e4e" stroke-width="1" fill="none"/>
<path d="M428.45 165.40H432.65" stroke="#7a7a7a" stroke-width="1" fill="none"/><path d="M430.55 163.30V167.50" stroke="#4e4e4e" stroke-width="1" fill="none"/>
<path d="M431.86 165.40H436.06" stroke="#7a7a7a" stroke-width="1" fill="none"/><path d="M433.96 163.30V167.50" stroke="#4e4e4e" stroke-width="1" fill="none"/>
<path d="M435.27 165.40H439.47" stroke="#7a7a7a" stroke-width="1" fill="none"/><path d="M437.37 163.30V167.50" stroke="#4e4e4e" stroke-width="1" fill="none"/>
<path d="M438.67 165.40H442.87" stroke="#7a7a7a" stroke-width="1" fill="none"/><path d="M440.77 163.30V167.50" stroke="#4e4e4e" stroke-width="1" fill="none"/>
<path d="M442.08 165.40H446.28" stroke="#7a7a7a" stroke-width="1" fill="none"/><path d="M444.18 163.30V167.50" stroke="#4e4e4e" stroke-width="1" fill="none"/>
<path d="M445.49 165.40H449.69" stroke="#7a7a7a" stroke-width="1" fill="none"/><path d="M447.59 163.30V167.50" stroke="#4e4e4e" stroke-width="1" fill="none"/>
<path d="M448.89 165.40H453.09" stroke="#7a7a7a" stroke-width="1" fill="none"/><path d="M450.99 163.30V167.50" stroke="#4e4e4e" stroke-width="1" fill="none"/>
<path d="M452.30 165.40H456.50" stroke="#7a7a7a" stroke-width="1" fill="none"/><path d="M454.40 163.30V167.50" stroke="#4e4e4e" stroke-width="1" fill="none"/>
<path d="M455.71 165.40H459.91" stroke="#7a7a7a" stroke-width="1" fill="none"/><path d="M457.81 163.30V167.50" stroke="#4e4e4e" stroke-width="1" fill="none"/>
<path d="M459.11 165.40H463.31" stroke="#7a7a7a" stroke-width="1" fill="none"/><path d="M461.21 163.30V167.50" stroke="#4e4e4e" stroke-width="1" fill="none"/>
<path d="M462.52 165.40H466.72" stroke="#7a7a7a" stroke-width="1" fill="none"/><path d="M464.62 163.30V167.50" stroke="#4e4e4e" stroke-width="1" fill="none"/>
<path d="M465.93 165.40H470.13" stroke="#7a7a7a" stroke-width="1" fill="none"/><path d="M468.03 163.30V167.50" stroke="#4e4e4e" stroke-width="1" fill="none"/>
<path d="M469.34 165.40H473.54" stroke="#7a7a7a" stroke-width="1" fill="none"/><path d="M471.44 163.30V167.50" stroke="#4e4e4e" stroke-width="1" fill="none"/>
<path d="M472.74 129.80H476.94" stroke="#7a7a7a" stroke-width="1" fill="none"/><path d="M474.84 127.70V131.90" stroke="#4e4e4e" stroke-width="1" fill="none"/>
<path d="M476.15 129.80H480.35" stroke="#7a7a7a" stroke-width="1" fill="none"/><path d="M478.25 127.70V131.90" stroke="#4e4e4e" stroke-width="1" fill="none"/>
<path d="M479.56 129.80H483.76" stroke="#7a7a7a" stroke-width="1" fill="none"/><path d="M481.66 127.70V131.90" stroke="#4e4e4e" stroke-width="1" fill="none"/>
<path d="M482.96 129.80H487.16" stroke="#7a7a7a" stroke-width="1" fill="none"/><path d="M485.06 127.70V131.90" stroke="#4e4e4e" stroke-width="1" fill="none"/>
<path d="M486.37 129.80H490.57" stroke="#7a7a7a" stroke-width="1" fill="none"/><path d="M488.47 127.70V131.90" stroke="#4e4e4e" stroke-width="1" fill="none"/>
<path d="M489.78 129.80H493.98" stroke="#7a7a7a" stroke-width="1" fill="none"/><path d="M491.88 127.70V131.90" stroke="#4e4e4e" stroke-width="1" fill="none"/>
<path d="M493.18 129.80H497.38" stroke="#7a7a7a" stroke-width="1" fill="none"/><path d="M495.28 127.70V131.90" stroke="#4e4e4e" stroke-width="1" fill="none"/>
<path d="M496.59 129.80H500.79" stroke="#7a7a7a" stroke-width="1" fill="none"/><path d="M498.69 127.70V131.90" stroke="#4e4e4e" stroke-width="1" fill="none"/>
<path d="M500.00 129.80H504.20" stroke="#7a7a7a" stroke-width="1" fill="none"/><path d="M502.10 127.70V131.90" stroke="#4e4e4e" stroke-width="1" fill="none"/>
<path d="M503.41 129.80H507.61" stroke="#7a7a7a" stroke-width="1" fill="none"/><path d="M505.51 127.70V131.90" stroke="#4e4e4e" stroke-width="1" fill="none"/>
<path d="M506.81 129.80H511.01" stroke="#7a7a7a" stroke-width="1" fill="none"/><path d="M508.91 127.70V131.90" stroke="#4e4e4e" stroke-width="1" fill="none"/>
<path d="M510.22 129.80H514.42" stroke="#7a7a7a" stroke-width="1" fill="none"/><path d="M512.32 127.70V131.90" stroke="#4e4e4e" stroke-width="1" fill="none"/>
<path d="M513.63 129.80H517.83" stroke="#7a7a7a" stroke-width="1" fill="none"/><path d="M515.73 127.70V131.90" stroke="#4e4e4e" stroke-width="1" fill="none"/>
<path d="M517.03 129.80H521.23" stroke="#7a7a7a" stroke-width="1" fill="none"/><path d="M519.13 127.70V131.90" stroke="#4e4e4e" stroke-width="1" fill="none"/>
<path d="M520.44 129.80H524.64" stroke="#7a7a7a" stroke-width="1" fill="none"/><path d="M522.54 127.70V131.90" stroke="#4e4e4e" stroke-width="1" fill="none"/>
<path d="M523.85 129.80H528.05" stroke="#7a7a7a" stroke-width="1" fill="none"/><path d="M525.95 127.70V131.90" stroke="#4e4e4e" stroke-width="1" fill="none"/>
<path d="M527.25 94.20H531.46" stroke="#7a7a7a" stroke-width="1" fill="none"/><path d="M529.36 92.10V96.30" stroke="#4e4e4e" stroke-width="1" fill="none"/>
<path d="M530.66 94.20H534.86" stroke="#7a7a7a" stroke-width="1" fill="none"/><path d="M532.76 92.10V96.30" stroke="#4e4e4e" stroke-width="1" fill="none"/>
<path d="M534.07 94.20H538.27" stroke="#7a7a7a" stroke-width="1" fill="none"/><path d="M536.17 92.10V96.30" stroke="#4e4e4e" stroke-width="1" fill="none"/>
<path d="M537.48 94.20H541.68" stroke="#7a7a7a" stroke-width="1" fill="none"/><path d="M539.58 92.10V96.30" stroke="#4e4e4e" stroke-width="1" fill="none"/>
</g>
<circle cx="311.31" cy="236.60" r="1.75" fill="#000"/>
<circle cx="314.71" cy="236.60" r="1.75" fill="#000"/>
<circle cx="318.12" cy="236.60" r="1.75" fill="#000"/>
<circle cx="321.53" cy="236.60" r="1.75" fill="#000"/>
<circle cx="324.94" cy="236.60" r="1.75" fill="#000"/>
<circle cx="328.34" cy="236.60" r="1.75" fill="#000"/>
<circle cx="331.75" cy="236.60" r="1.75" fill="#000"/>
<circle cx="335.16" cy="236.60" r="1.75" fill="#000"/>
<circle cx="338.56" cy="236.60" r="1.75" fill="#000"/>
<circle cx="341.97" cy="236.60" r="1.75" fill="#000"/>
<circle cx="345.38" cy="236.60" r="1.75" fill="#000"/>
<circle cx="348.78" cy="236.60" r="1.75" fill="#000"/>
<circle cx="352.19" cy="236.60" r="1.75" fill="#000"/>
<circle cx="355.60" cy="236.60" r="1.75" fill="#000"/>
<circle cx="359.00" cy="236.60" r="1.75" fill="#000"/>
<circle cx="362.41" cy="236.60" r="1.75" fill="#000"/>
<circle cx="365.82" cy="201.00" r="1.75" fill="#000"/>
<circle cx="369.23" cy="201.00" r="1.75" fill="#000"/>
<circle cx="372.63" cy="201.00" r="1.75" fill="#000"/>
<circle cx="376.04" cy="201.00" r="1.75" fill="#000"/>
<circle cx="379.45" cy="201.00" r="1.75" fill="#000"/>
<circle cx="382.85" cy="201.00" r="1.75" fill="#000"/>
<circle cx="386.26" cy="201.00" r="1.75" fill="#000"/>
<circle cx="389.67" cy="201.00" r="1.75" fill="#000"/>
<circle cx="393.07" cy="201.00" r="1.75" fill="#000"/>
<circle cx="396.48" cy="201.00" r="1.75" fill="#000"/>
<circle cx="399.89" cy="201.00" r="1.75" fill="#000"/>
<circle cx="403.30" cy="201.00" r="1.75" fill="#000"/>
<circle cx="406.70" cy="201.00" r="1.75" fill="#000"/>
<circle cx="410.11" cy="201.00" r="1.75" fill="#000"/>
<circle cx="413.52" cy="201.00" r="1.75" fill="#000"/>
<circle cx="416.92" cy="201.00" r="1.75" fill="#000"/>
<circle cx="420.33" cy="201.00" r="1.75" fill="#000"/>
<circle cx="423.74" cy="201.00" r="1.75" fill="#000"/>
<circle cx="427.14" cy="201.00" r="1.75" fill="#000"/>
<circle cx="430.55" cy="165.40" r="1.75" fill="#000"/>
<circle cx="433.96" cy="165.40" r="1.75" fill="#000"/>
<circle cx="437.37" cy="165.40" r="1.75" fill="#000"/>
<circle cx="440.77" cy="165.40" r="1.75" fill="#000"/>
<circle cx="444.18" cy="165.40" r="1.75" fill="#000"/>
<circle cx="447.59" cy="165.40" r="1.75" fill="#000"/>
<circle cx="450.99" cy="165.40" r="1.75" fill="#000"/>
<circle cx="454.40" cy="165.40" r="1.75" fill="#000"/>
<circle cx="457.81" cy="165.40" r="1.75" fill="#000"/>
<circle cx="461.21" cy="165.40" r="1.75" fill="#000"/>
<circle cx="464.62" cy="165.40" r="1.75" fill="#000"/>
<circle cx="468.03" cy="165.40" r="1.75" fill="#000"/>
<circle cx="471.44" cy="165.40" r="1.75" fill="#000"/>
<circle cx="478.25" cy="165.40" r="1.75" fill="#000"/>
<circle cx="474.84" cy="129.80" r="1.75" fill="#000"/>
<circle cx="481.66" cy="129.80" r="1.75" fill="#000"/>
<circle cx="485.06" cy="129.80" r="1.75" fill="#000"/>
<circle cx="488.47" cy="129.80" r="1.75" fill="#000"/>
<circle cx="491.88" cy="129.80" r="1.75" fill="#000"/>
<circle cx="495.28" cy="129.80" r="1.75" fill="#000"/>
<circle cx="498.69" cy="129.80" r="1.75" fill="#000"/>
<circle cx="502.10" cy="129.80" r="1.75" fill="#000"/>
<circle cx="505.51" cy="129.80" r="1.75" fill="#000"/>
<circle cx="508.91" cy="129.80" r="1.75" fill="#000"/>
<circle cx="512.32" cy="129.80" r="1.75" fill="#000"/>
<circle cx="515.73" cy="129.80" r="1.75" fill="#000"/>
<circle cx="519.13" cy="129.80" r="1.75" fill="#000"/>
<circle cx="522.54" cy="129.80" r="1.75" fill="#000"/>
<circle cx="525.95" cy="129.80" r="1.75" fill="#000"/>
<circle cx="529.36" cy="129.80" r="1.75" fill="#000"/>
<circle cx="532.76" cy="94.20" r="1.75" fill="#000"/>
<circle cx="536.17" cy="94.20" r="1.75" fill="#000"/>
<circle cx="539.58" cy="94.20" r="1.75" fill="#000"/>
</g>
<text x="298.5" y="239.55" text-anchor="end" class="tk" font-size="9.2">0</text>
<text x="298.5" y="203.95" text-anchor="end" class="tk" font-size="9.2">1</text>
<text x="298.5" y="168.35" text-anchor="end" class="tk" font-size="9.2">2</text>
<text x="298.5" y="132.75" text-anchor="end" class="tk" font-size="9.2">3</text>
<text x="298.5" y="97.15" text-anchor="end" class="tk" font-size="9.2">4</text>
<text x="298.5" y="61.55" text-anchor="end" class="tk" font-size="9.2">5</text>
<text x="298.5" y="25.95" text-anchor="end" class="tk" font-size="9.2">6</text>
<text x="324.94" y="266.8" text-anchor="middle" class="tkx">5</text>
<text x="341.97" y="266.8" text-anchor="middle" class="tkx">10</text>
<text x="359.00" y="266.8" text-anchor="middle" class="tkx">15</text>
<text x="376.04" y="266.8" text-anchor="middle" class="tkx">20</text>
<text x="393.07" y="266.8" text-anchor="middle" class="tkx">25</text>
<text x="410.11" y="266.8" text-anchor="middle" class="tkx">30</text>
<text x="427.14" y="266.8" text-anchor="middle" class="tkx">35</text>
<text x="444.18" y="266.8" text-anchor="middle" class="tkx">40</text>
<text x="461.21" y="266.8" text-anchor="middle" class="tkx">45</text>
<text x="478.25" y="266.8" text-anchor="middle" class="tkx">50</text>
<text x="495.28" y="266.8" text-anchor="middle" class="tkx">55</text>
<text x="512.32" y="266.8" text-anchor="middle" class="tkx">60</text>
<text x="529.36" y="266.8" text-anchor="middle" class="tkx">65</text>
<text x="0" y="0" transform="translate(288.2,135.85) rotate(-90)" text-anchor="middle" textLength="74.3" lengthAdjust="spacingAndGlyphs" class="ylab">original code</text>
<text x="294.40" y="10.7" textLength="17.42" lengthAdjust="spacingAndGlyphs" class="ttl">Total</text>
<text x="313.81" y="10.7" textLength="30.19" lengthAdjust="spacingAndGlyphs" class="ttl">absolute</text>
<text x="346.89" y="10.7" textLength="22.72" lengthAdjust="spacingAndGlyphs" class="ttl">error=</text>
<text x="370.82" y="10.7" textLength="25.47" lengthAdjust="spacingAndGlyphs" class="ttl">+14.00/</text>
<text x="399.69" y="10.7" textLength="5.02" lengthAdjust="spacingAndGlyphs" class="ttl">−</text>
<text x="405.38" y="10.7" textLength="13.35" lengthAdjust="spacingAndGlyphs" class="ttl">1.00</text>
<text x="421.47" y="10.7" textLength="15.22" lengthAdjust="spacingAndGlyphs" class="ttl">LSB,</text>
<text x="436.58" y="10.7" textLength="11.29" lengthAdjust="spacingAndGlyphs" class="ttl">“+”</text>
<text x="450.99" y="10.7" textLength="18.00" lengthAdjust="spacingAndGlyphs" class="ttl">Ideal</text>
<text x="471.60" y="10.7" textLength="18.03" lengthAdjust="spacingAndGlyphs" class="ttl">data,</text>
<text x="490.30" y="10.7" textLength="10.13" lengthAdjust="spacingAndGlyphs" class="ttl">“o”</text>
<text x="502.90" y="10.7" textLength="23.09" lengthAdjust="spacingAndGlyphs" class="ttl">Actual</text>
<text x="527.59" y="10.7" textLength="19.08" lengthAdjust="spacingAndGlyphs" class="ttl">data,</text>
<text y="295.2" class="cap"><tspan x="402.0">(</tspan><tspan x="406.8" font-weight="bold" font-size="10.5px">b</tspan><tspan x="413.7">)</tspan></text>
</svg>
</body></html>
